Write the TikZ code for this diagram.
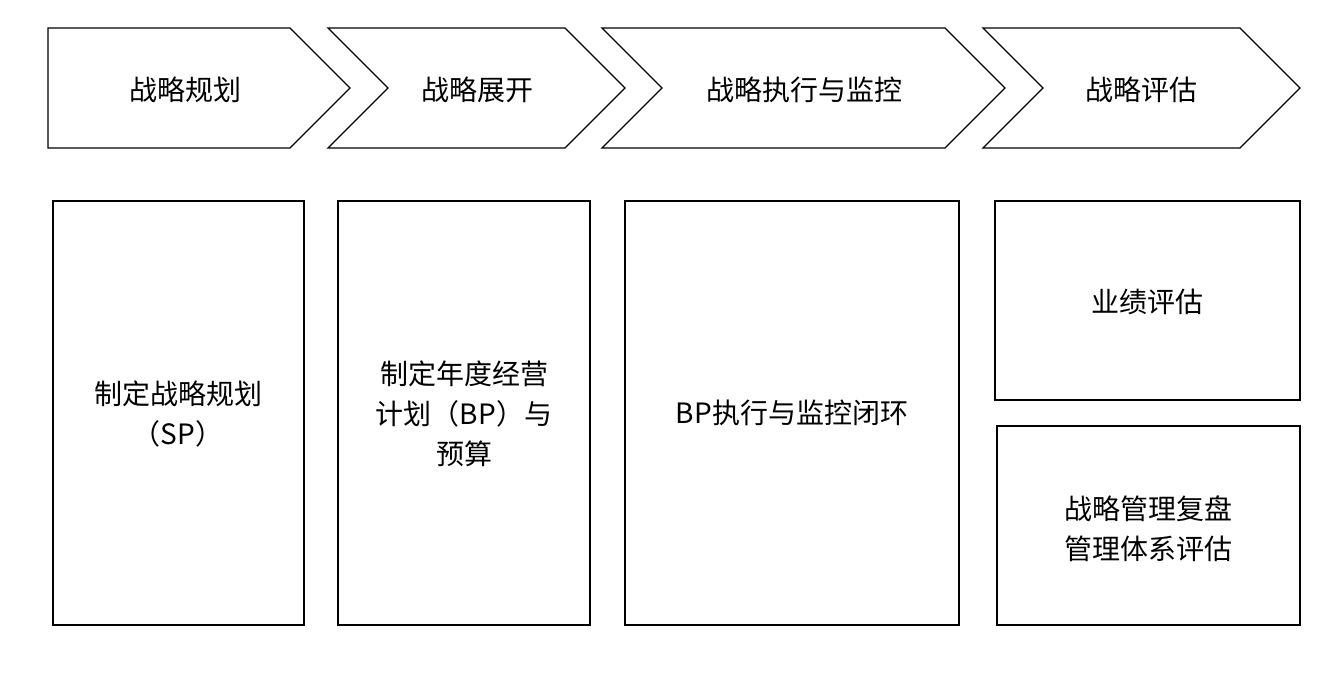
\documentclass[tikz,border=0pt]{standalone}
\usepackage{fontspec}
\setmainfont{Noto Sans CJK SC}
\begin{document}
\begin{tikzpicture}[x=1pt,y=-1pt,
  shp/.style={draw=black,line width=1.2pt,fill=white},
  lbl/.style={font=\fontsize{28}{40}\selectfont,align=center}]
\useasboundingbox (0,0) rectangle (1335,685);
\fill[white] (0,0) rectangle (1335,685);
% chevrons
\draw[shp] (48,28) -- (290,28) -- (350,88) -- (290,148) -- (48,148) -- cycle;
\draw[shp] (328,28) -- (565,28) -- (625,88) -- (565,148) -- (328,148) -- (388,88) -- cycle;
\draw[shp] (602,28) -- (945,28) -- (1005,88) -- (945,148) -- (602,148) -- (662,88) -- cycle;
\draw[shp] (983,28) -- (1240,28) -- (1300,88) -- (1240,148) -- (983,148) -- (1043,88) -- cycle;
\node[lbl] (c1) at (185,90) {战略规划};
\node[lbl] (c2) at (477,90) {战略展开};
\node[lbl] (c3) at (804,90) {战略执行与监控};
\node[lbl] (c4) at (1141,90) {战略评估};
% boxes
\draw[shp] (53,201) rectangle (304,625);
\draw[shp] (338,201) rectangle (590,625);
\draw[shp] (625,201) rectangle (959,625);
\draw[shp] (995,201) rectangle (1300,400);
\draw[shp] (997,426) rectangle (1300,625);
\node[lbl] (b1) at (178,414) {制定战略规划\\（SP）};
\node[lbl] (b2) at (464,414) {制定年度经营\\计划（BP）与\\预算};
\node[lbl] (b3) at (792,413) {BP执行与监控闭环};
\node[lbl] (b4) at (1147,302) {业绩评估};
\node[lbl] (b5) at (1148,529) {战略管理复盘\\管理体系评估};
\end{tikzpicture}
\end{document}
